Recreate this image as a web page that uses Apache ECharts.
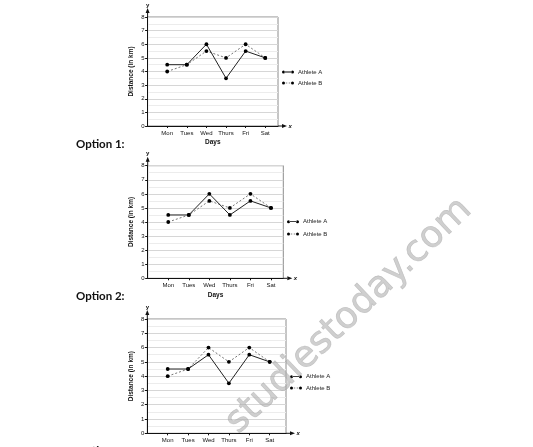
<!DOCTYPE html>
<html>
<head>
<meta charset="utf-8">
<script src="https://cdn.jsdelivr.net/npm/echarts@6/dist/echarts.min.js"></script>
<style>
  html, body { margin: 0; padding: 0; background: #fff; }
  #chart { width: 533px; height: 447px; }
</style>
</head>
<body>
<div id="chart"></div>
<script>
// data
const days = ['Mon', 'Tues', 'Wed', 'Thurs', 'Fri', 'Sat'];
const yTicks = [0, 1, 2, 3, 4, 5, 6, 7, 8];
const optionLabels = ['Option 1:', 'Option 2:', 'Option 3'];
const seriesNames = ['Athlete A', 'Athlete B'];
const athleteA1 = [4.5, 4.5, 6, 3.5, 5.5, 5];
const athleteB1 = [4, 4.5, 5.5, 5, 6, 5];
const athleteA2 = [4.5, 4.5, 6, 4.5, 5.5, 5];
const athleteB2 = [4, 4.5, 5.5, 5, 6, 5];
const athleteA3 = [4.5, 4.5, 5.5, 3.5, 5.5, 5];
const athleteB3 = [4, 4.5, 6, 5, 6, 5];
const panelData = [[athleteA1, athleteB1], [athleteA2, athleteB2], [athleteA3, athleteB3]];

// layout of the three panels
const panels = [
  { left: 147.6, top: 17, width: 130.4, height: 109, xMax: 6.65, legendLeft: 282, legendTop: 68, gap: 3, optionY: 144 },
  { left: 147.7, top: 165.7, width: 135.6, height: 112.6, xMax: 6.6, legendLeft: 287, legendTop: 217.7, gap: 4.3, optionY: 296 },
  { left: 147.3, top: 319, width: 138.7, height: 114.3, xMax: 6.8, legendLeft: 290, legendTop: 372.7, gap: 3.3, optionY: 451 },
];

const FONT = 'Liberation Sans, Arial, sans-serif';
// legend icons: dot - line - dot (solid / dashed)
const iconA = 'path://M0,4a3,3 0 1,0 6,0a3,3 0 1,0 -6,0Z M18,4a3,3 0 1,0 6,0a3,3 0 1,0 -6,0Z M5,3.2h14v1.6h-14Z';
const iconB = 'path://M0,4a3,3 0 1,0 6,0a3,3 0 1,0 -6,0Z M18,4a3,3 0 1,0 6,0a3,3 0 1,0 -6,0Z M7.5,3.3h3v1.4h-3Z M13.5,3.3h3v1.4h-3Z';

const chart = echarts.init(document.getElementById('chart'), null, { renderer: 'canvas' });

const grid = [], xAxis = [], yAxis = [], series = [], legend = [], graphic = [];

panels.forEach((p, i) => {
  grid.push({
    left: p.left, top: p.top, width: p.width, height: p.height,
    show: true, borderColor: '#8c8c8c', borderWidth: 1, backgroundColor: 'transparent',
  });
  xAxis.push({
    type: 'value', gridIndex: i, min: 0, max: p.xMax,
    name: i < 2 ? 'Days' : '', nameLocation: 'middle', nameGap: 13,
    nameTextStyle: { fontFamily: FONT, fontSize: 6.5, fontWeight: 'bold', color: '#111' },
    axisLine: { onZero: false, lineStyle: { color: '#111', width: 1 } },
    axisTick: { show: true, length: 2, customValues: [1, 2, 3, 4, 5, 6], lineStyle: { color: '#111' } },
    axisLabel: {
      customValues: [1, 2, 3, 4, 5, 6], margin: 4,
      fontFamily: FONT, fontSize: 6, color: '#111',
      formatter: (v) => days[Math.round(v) - 1] || '',
    },
    splitLine: { show: false },
  });
  yAxis.push({
    type: 'value', gridIndex: i, min: yTicks[0], max: yTicks[yTicks.length - 1], interval: 1,
    name: 'Distance (in km)', nameLocation: 'middle', nameGap: 12.5,
    nameTextStyle: { fontFamily: FONT, fontSize: 6.5, fontWeight: 'bold', color: '#111' },
    axisLine: { show: true, lineStyle: { color: '#111', width: 1 } },
    axisTick: { show: true, length: 2.5, lineStyle: { color: '#111' } },
    axisLabel: { margin: 3, fontFamily: FONT, fontSize: 6, color: '#111' },
    splitLine: { show: true, lineStyle: { color: '#d6d6d6', width: 1 } },
    minorTick: { show: false, splitNumber: 2 },
    minorSplitLine: { show: true, lineStyle: { color: '#ececec', width: 1 } },
  });
  const [a, b] = panelData[i];
  series.push({
    name: seriesNames[0], type: 'line', xAxisIndex: i, yAxisIndex: i,
    data: a.map((v, j) => [j + 1, v]),
    symbol: 'circle', symbolSize: 3.8, showSymbol: true, animation: false,
    itemStyle: { color: '#000' },
    lineStyle: { color: '#222', width: 1 },
    z: 3,
  });
  series.push({
    name: seriesNames[1], type: 'line', xAxisIndex: i, yAxisIndex: i,
    data: b.map((v, j) => [j + 1, v]),
    symbol: 'circle', symbolSize: 3.8, showSymbol: true, animation: false,
    itemStyle: { color: '#000' },
    lineStyle: { color: '#666', width: 0.9, type: [2, 2] },
    z: 2,
  });
  legend.push({
    orient: 'vertical', left: p.legendLeft, top: p.legendTop,
    itemWidth: 12, itemHeight: 4, itemGap: p.gap, padding: 0,
    selectedMode: false,
    textStyle: { fontFamily: FONT, fontSize: 6, color: '#222', lineHeight: 8, padding: [0, 0, 0, -1] },
    itemStyle: { borderWidth: 0 },
    data: [{ name: seriesNames[0], icon: iconA }, { name: seriesNames[1], icon: iconB }],
  });

  // axis arrows and letters
  const x0 = p.left, yTop = p.top, xRight = p.left + p.width, yBot = p.top + p.height;
  graphic.push(
    { type: 'line', shape: { x1: x0, y1: yTop, x2: x0, y2: yTop - 5 }, style: { stroke: '#111', lineWidth: 1 }, z: 10 },
    { type: 'polygon', shape: { points: [[x0, yTop - 9], [x0 - 2, yTop - 4], [x0 + 2, yTop - 4]] }, style: { fill: '#111' }, z: 10 },
    { type: 'text', x: x0, y: yTop - 12, style: { text: 'y', fontFamily: FONT, fontSize: 6, fontWeight: 'bold', fill: '#111', align: 'center', verticalAlign: 'middle' }, z: 10 },
    { type: 'line', shape: { x1: xRight, y1: yBot, x2: xRight + 4, y2: yBot }, style: { stroke: '#111', lineWidth: 1 }, z: 10 },
    { type: 'polygon', shape: { points: [[xRight + 9, yBot], [xRight + 4, yBot - 2], [xRight + 4, yBot + 2]] }, style: { fill: '#111' }, z: 10 },
    { type: 'text', x: xRight + 10.5, y: yBot, style: { text: 'x', fontFamily: FONT, fontSize: 6, fontWeight: 'bold', fontStyle: 'italic', fill: '#111', align: 'left', verticalAlign: 'middle' }, z: 10 },
    { type: 'text', left: 76, y: p.optionY, style: { text: optionLabels[i], fontFamily: 'Lato, sans-serif', fontSize: 11.5, fontWeight: 'bold', fill: '#111', verticalAlign: 'middle' }, z: 10 }
  );
});

// watermark
graphic.push({
  type: 'text', x: 349, y: 316, rotation: 0.76, z: 100,
  style: {
    text: 'studiestoday.com', fontFamily: 'DejaVu Sans, sans-serif', fontSize: 37,
    fill: 'rgba(175,175,175,0.6)', stroke: 'rgba(150,150,150,0.5)', lineWidth: 0.6,
    align: 'center', verticalAlign: 'middle',
  },
});

chart.setOption({
  backgroundColor: '#fff',
  animation: false,
  grid, xAxis, yAxis, series, legend, graphic,
});
</script>
</body>
</html>
